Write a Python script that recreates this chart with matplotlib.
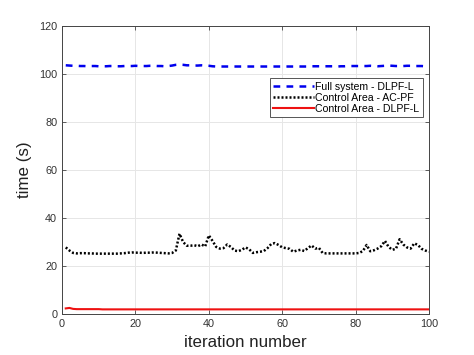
import matplotlib
matplotlib.use("Agg")
import matplotlib.pyplot as plt
import numpy as np

plt.rcParams['font.family'] = ['Liberation Sans', 'DejaVu Sans']

iterations = list(range(1, 101))

full_dlpf = [103.6, 103.5, 103.4, 103.4, 103.3, 103.3, 103.2, 103.3, 103.3, 103.2,
             103.2, 103.2, 103.3, 103.3, 103.2, 103.2, 103.3, 103.3, 103.3, 103.4,
             103.3, 103.3, 103.3, 103.4, 103.4, 103.3, 103.3, 103.2, 103.3, 103.5,
             103.8, 103.9, 103.8, 103.6, 103.6, 103.5, 103.5, 103.6, 103.5, 103.4,
             103.2, 103.1, 103.1, 103.1, 103.1, 103.1, 103.1, 103.1, 103.1, 103.1,
             103.1, 103.1, 103.1, 103.1, 103.1, 103.1, 103.1, 103.1, 103.1, 103.1,
             103.1, 103.1, 103.1, 103.2, 103.1, 103.1, 103.1, 103.2, 103.2, 103.2,
             103.2, 103.2, 103.2, 103.2, 103.1, 103.2, 103.2, 103.3, 103.3, 103.3,
             103.3, 103.3, 103.3, 103.4, 103.3, 103.2, 103.3, 103.4, 103.5, 103.4,
             103.3, 103.3, 103.3, 103.4, 103.4, 103.3, 103.3, 103.3, 103.2, 103.2]

ca_acpf = [27.8, 26.5, 25.5, 25.3, 25.4, 25.4, 25.3, 25.3, 25.2, 25.2,
           25.2, 25.2, 25.2, 25.2, 25.2, 25.3, 25.4, 25.6, 25.7, 25.6,
           25.6, 25.5, 25.6, 25.6, 25.7, 25.6, 25.5, 25.4, 25.3, 25.5,
           26.5, 33.5, 30.0, 28.5, 28.5, 28.7, 28.3, 29.0, 28.2, 32.8,
           30.5, 28.0, 27.3, 27.5, 29.0, 28.0, 26.5, 26.2, 26.8, 27.8,
           27.0, 25.5, 25.8, 26.0, 26.3, 27.5, 29.2, 29.6, 28.8, 27.8,
           27.5, 27.2, 26.0, 26.5, 26.8, 26.3, 27.5, 28.6, 27.3, 27.6,
           25.5, 25.3, 25.3, 25.3, 25.3, 25.3, 25.3, 25.3, 25.3, 25.3,
           25.5, 26.3, 28.8, 26.2, 26.6, 27.3, 28.3, 30.5, 28.0, 26.8,
           27.2, 31.2, 29.0, 27.8, 27.3, 29.5, 28.8, 27.2, 26.5, 26.0]

ca_dlpf = [2.4, 2.6, 2.2, 2.1, 2.1, 2.1, 2.1, 2.1, 2.1, 2.1] + [2.0] * 90

fig = plt.figure(figsize=(4.74, 3.55), dpi=100)
ax = fig.add_axes([0.131, 0.115, 0.774, 0.812])

ax.plot(iterations, full_dlpf, color='#0000ee', linestyle=(0, (2.7, 2.5)), linewidth=1.8,
        label='Full system - DLPF-L')
ax.plot(iterations, ca_acpf, color='black', linestyle=(0, (0.8, 0.8)), linewidth=1.8,
        label='Control Area - AC-PF')
ax.plot(iterations, ca_dlpf, color='#ee1111', linewidth=1.5, label='Control Area - DLPF-L')

ax.set_xlim(0, 100)
ax.set_ylim(0, 120)
ax.set_xticks(np.arange(0, 101, 20))
ax.set_yticks(np.arange(0, 121, 20))
ax.grid(True, color='#e6e6e6', linewidth=0.7)
ax.tick_params(direction='in', length=3, width=0.6, colors='#444444', labelsize=7.8,
               top=True, right=True, labelcolor='#333333')
for s in ax.spines.values():
    s.set_color('#444444')
    s.set_linewidth(0.7)

ax.set_xlabel('iteration number', fontsize=12.2, color='#222222', labelpad=4)
ax.set_ylabel('time (s)', fontsize=12.2, color='#222222', labelpad=5)

leg = ax.legend(loc='upper right', bbox_to_anchor=(0.983, 0.818),
                prop={'size': 7.6},
                frameon=True, fancybox=False, handlelength=3.9, handletextpad=0.15,
                borderpad=0.3, labelspacing=0.1, borderaxespad=0)
leg.get_frame().set_edgecolor('#555555')
leg.get_frame().set_linewidth(0.7)
leg.get_frame().set_alpha(1)

fig.savefig('out.png', dpi=100)
